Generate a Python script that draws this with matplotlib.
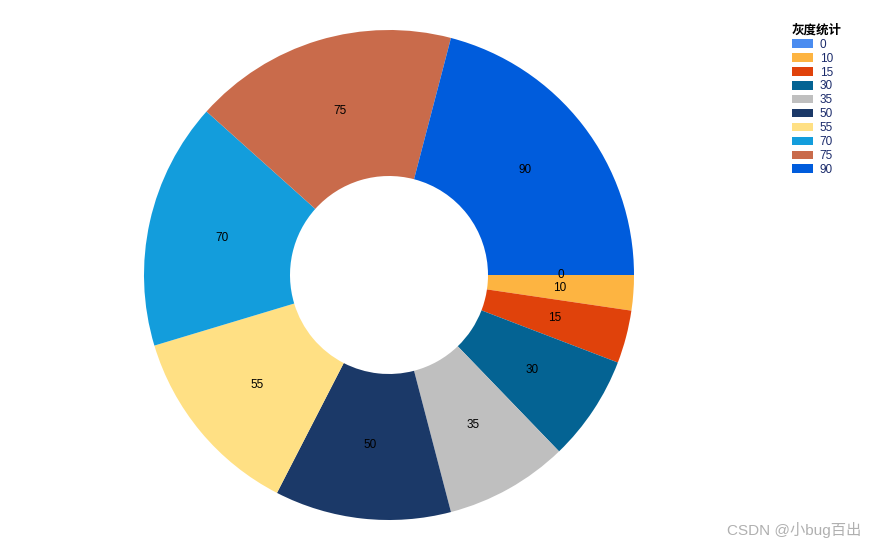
import matplotlib.pyplot as plt
from matplotlib.patches import Patch

plt.rcParams['font.family'] = ['Liberation Sans', 'Noto Sans CJK SC', 'DejaVu Sans']

labels = ['0', '10', '15', '30', '35', '50', '55', '70', '75', '90']
values = [0, 10, 15, 30, 35, 50, 55, 70, 75, 90]
colors = ['#4a8cf0', '#fdb441', '#e0420b', '#046393', '#bfbfbf',
          '#1b3968', '#ffe084', '#139ddc', '#c96b4b', '#005cdc']

fig = plt.figure(figsize=(8.7, 5.46), dpi=100)
# pie centre at (389, 275) px, outer radius 245 px
ax = fig.add_axes([(389 - 245) / 870, (271 - 245) / 546, 490 / 870, 490 / 546])
wedges, texts = ax.pie(values, colors=colors, startangle=0, counterclock=False,
                       radius=1.0, labels=labels, labeldistance=0.7,
                       wedgeprops=dict(width=1 - 99 / 245, edgecolor='none'),
                       textprops=dict(fontsize=8.5, color='black'))
for t in texts:
    t.set_ha('center')
    t.set_va('center')
ax.set_xlim(-1, 1)
ax.set_ylim(-1, 1)
ax.set_aspect('equal')

handles = [Patch(facecolor=c, edgecolor='none') for c in colors]
leg = fig.legend(handles, labels, loc='upper left', bbox_to_anchor=(786 / 870, 1 - 18 / 546),
                 frameon=False, fontsize=8.5, title='灰度统计',
                 title_fontproperties={'weight': 'bold', 'size': 9,
                                       'family': ['Noto Sans CJK SC']},
                 handlelength=1.8, handleheight=0.72, labelspacing=0.16,
                 handletextpad=0.55, borderpad=0, alignment='left')
for t in leg.get_texts():
    t.set_color('#1a2a6a')

fig.text(727 / 870, 1 - 530 / 546, 'CSDN @小bug百出', fontsize=11, color='#b0b0b0',
         va='center', ha='left')

fig.savefig('out.png', dpi=100)
